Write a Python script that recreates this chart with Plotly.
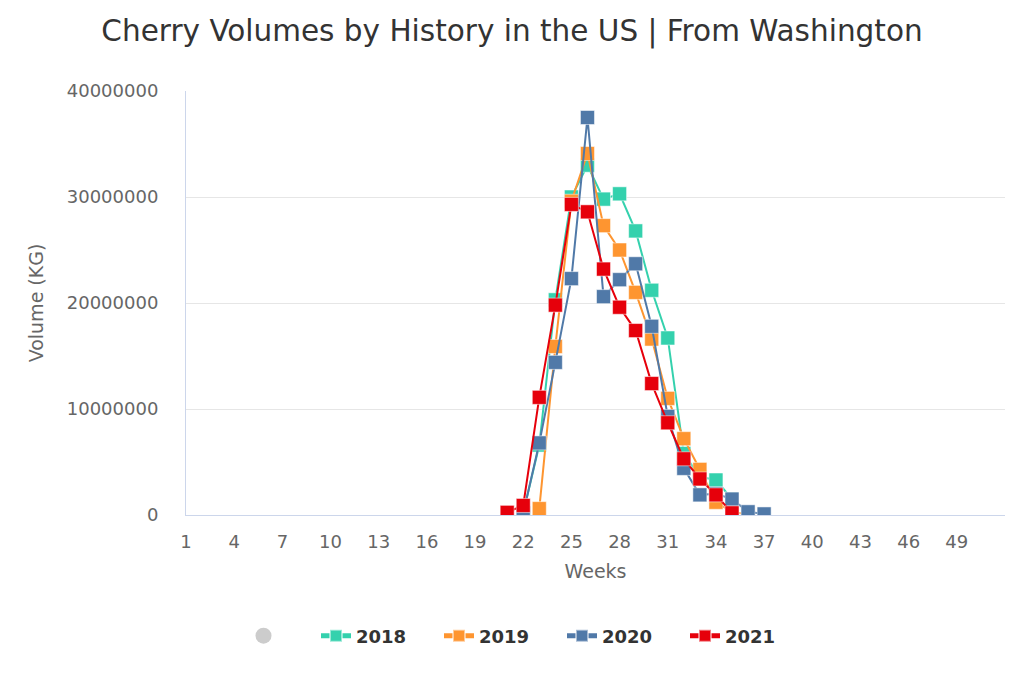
import plotly.graph_objects as go

weeks_2018 = [22, 23, 24, 25, 26, 27, 28, 29, 30, 31, 32, 33, 34, 35]
vol_2018 = [200000, 6600000, 20300000, 30000000, 33000000, 29800000, 30300000, 26800000,
            21200000, 16700000, 5800000, 3600000, 3300000, 1500000]

weeks_2019 = [23, 24, 25, 26, 27, 28, 29, 30, 31, 32, 33, 34, 35, 36]
vol_2019 = [600000, 15900000, 29600000, 34100000, 27300000, 25000000, 21000000, 16600000,
            11000000, 7200000, 4300000, 1200000, 300000, 50000]

weeks_2020 = [22, 23, 24, 25, 26, 27, 28, 29, 30, 31, 32, 33, 34, 35, 36, 37]
vol_2020 = [150000, 6800000, 14400000, 22300000, 37500000, 20600000, 22200000, 23700000,
            17800000, 9300000, 4400000, 1900000, 2000000, 1500000, 300000, 100000]

weeks_2021 = [21, 22, 23, 24, 25, 26, 27, 28, 29, 30, 31, 32, 33, 34, 35]
vol_2021 = [250000, 900000, 11100000, 19800000, 29300000, 28600000, 23200000, 19600000,
            17400000, 12400000, 8700000, 5300000, 3400000, 1900000, 200000]

week_ticks = list(range(1, 50, 3))

series = [
    ("2018", weeks_2018, vol_2018, "#34d1ad"),
    ("2019", weeks_2019, vol_2019, "#fe9530"),
    ("2020", weeks_2020, vol_2020, "#5079a8"),
    ("2021", weeks_2021, vol_2021, "#e6000b"),
]

FONT = "DejaVu Sans"

fig = go.Figure()

# placeholder legend item (grey circle), in its own legend
fig.add_trace(go.Scatter(
    x=[None], y=[None], mode="markers", name="",
    marker=dict(symbol="circle", size=20, color="#cccccc"),
    hoverinfo="skip", legend="legend2",
))

for name, xs, ys, col in series:
    fig.add_trace(go.Scatter(
        x=xs, y=ys, mode="lines+markers", name=name,
        line=dict(color=col, width=2),
        marker=dict(symbol="square", size=14, color=col,
                    line=dict(color="rgba(255,255,255,0.5)", width=1)),
    ))

legend_y = 1 - 636 / 683

fig.update_layout(
    width=1024, height=683,
    margin=dict(l=186, r=19, t=91, b=168),
    paper_bgcolor="white", plot_bgcolor="white",
    font=dict(family=FONT, color="#666666", size=16),
    title=dict(
        text="Cherry Volumes by History in the US | From Washington",
        font=dict(family=FONT, size=29.5, color="#333333"),
        x=0.5, xanchor="center", xref="container",
        y=1 - 31 / 683, yanchor="middle", yref="container",
    ),
    showlegend=True,
    legend=dict(
        orientation="h",
        x=316 / 1024, xanchor="left", xref="container",
        y=legend_y, yanchor="middle", yref="container",
        font=dict(family=FONT, size=18, color="#333333", weight="bold"),
        itemsizing="constant",
        entrywidth=78, entrywidthmode="pixels",
    ),
    legend2=dict(
        orientation="h",
        x=266 / 1024, xanchor="center", xref="container",
        y=legend_y, yanchor="middle", yref="container",
        font=dict(family=FONT, size=18, color="#333333"),
        itemsizing="trace",
    ),
    xaxis=dict(
        range=[1, 52],
        tickmode="array", tickvals=week_ticks,
        ticktext=[str(w) for w in week_ticks],
        showgrid=False, zeroline=False,
        showline=True, linecolor="#ccd6eb", linewidth=1,
        ticks="", ticklabelstandoff=10,
        tickfont=dict(family=FONT, size=18, color="#666666"),
        title=dict(text="Weeks", standoff=14,
                   font=dict(family=FONT, size=19, color="#666666")),
    ),
    yaxis=dict(
        range=[0, 40000000],
        tickmode="linear", tick0=0, dtick=10000000,
        tickformat="d",
        showgrid=True, gridcolor="#e6e6e6", gridwidth=1,
        zeroline=False,
        showline=True, linecolor="#ccd6eb", linewidth=1,
        ticks="", ticklabelstandoff=23,
        tickfont=dict(family=FONT, size=18, color="#666666"),
        title=dict(text="Volume (KG)", standoff=18,
                   font=dict(family=FONT, size=19, color="#666666")),
    ),
)

fig.write_html("out.html")
